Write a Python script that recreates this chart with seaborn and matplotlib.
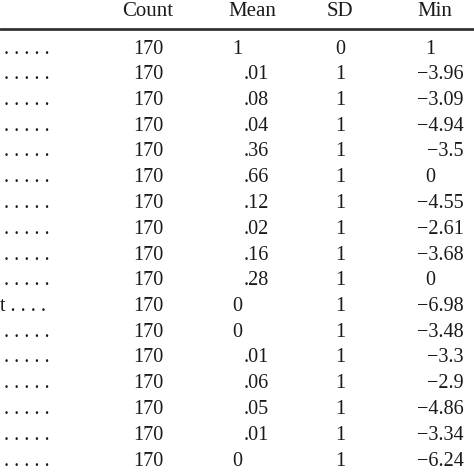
import matplotlib.pyplot as plt
import seaborn as sns

sns.set_theme(style="white")
plt.rcParams['font.family'] = ['Liberation Serif', 'DejaVu Serif']

labels = [". . . . ."] * 10 + ["t . . . ."] + [". . . . ."] * 6
count = [170] * 17
mean = ["1", ".01", ".08", ".04", ".36", ".66", ".12", ".02", ".16", ".28",
        "0", "0", ".01", ".06", ".05", ".01", "0"]
sd = ["0"] + ["1"] * 16
mins = ["1", "\u22123.96", "\u22123.09", "\u22124.94", "\u22123.5", "0", "\u22124.55",
        "\u22122.61", "\u22123.68", "0", "\u22126.98", "\u22123.48", "\u22123.3",
        "\u22122.9", "\u22124.86", "\u22123.34", "\u22126.24"]

fig = plt.figure(figsize=(4.74, 4.74), dpi=100)
ax = fig.add_axes([0, 0, 1, 1])
ax.set_xlim(0, 474)
ax.set_ylim(474, 0)
ax.axis("off")

fs = 14.5
col = "#1a1a1a"
for x, h in [(148, "Count"), (252, "Mean"), (340, "SD"), (435, "Min")]:
    ax.text(x, 11, h, ha="center", va="center", fontsize=fs + 0.5, color=col)
ax.plot([0, 474], [29, 29], color="#333", lw=2)

for i in range(17):
    y = 49 + i * 25.75
    lab = labels[i]
    ax.text(0 if lab.startswith("t") else 4, y, lab, ha="left", va="center",
            fontsize=fs, color=col, fontstretch="expanded")
    ax.text(148, y, str(count[i]), ha="center", va="center", fontsize=fs, color=col)
    m = mean[i]
    if m.startswith("."):
        ax.text(269, y, m, ha="right", va="center", fontsize=fs, color=col)
    else:
        ax.text(232, y, m, ha="left", va="center", fontsize=fs, color=col)
    ax.text(340, y, sd[i], ha="center", va="center", fontsize=fs, color=col)
    mn = mins[i]
    if mn.startswith("\u2212"):
        ax.text(464, y, mn, ha="right", va="center", fontsize=fs, color=col)
    else:
        ax.text(430, y, mn, ha="center", va="center", fontsize=fs, color=col)

fig.savefig("out.png", dpi=100, facecolor="white")
